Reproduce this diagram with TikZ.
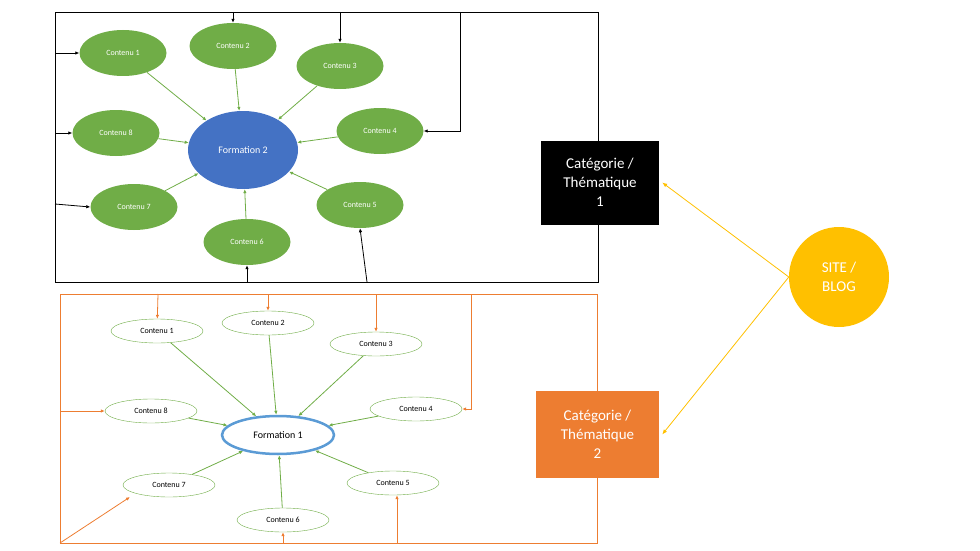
\documentclass[tikz,border=0pt]{standalone}
\usepackage{fontspec}
\setmainfont{Carlito}
\usetikzlibrary{shapes.geometric,arrows.meta}
\definecolor{gr}{HTML}{70AD47}
\definecolor{bl}{HTML}{4472C4}
\definecolor{lb}{HTML}{5B9BD5}
\definecolor{orr}{HTML}{ED7D31}
\definecolor{ye}{HTML}{FFC000}
\begin{document}
\begin{tikzpicture}[x=1pt,y=-1pt,
 gt/.style={ellipse,fill=gr,text=white,minimum width=87pt,minimum height=46pt,inner sep=0pt,font=\fontsize{8}{9}\selectfont},
 wt/.style={ellipse,draw=gr,fill=white,minimum width=92pt,minimum height=24pt,inner sep=0pt,font=\fontsize{8}{9}\selectfont},
 ga/.style={draw=gr,thick,-{Latex[length=4pt,width=3.5pt]}},
 ka/.style={draw=black,thick,-{Latex[length=4pt,width=3.5pt]}},
 oa/.style={draw=orr,thick,-{Latex[length=4pt,width=3.5pt]}},
 ya/.style={draw=ye,thick,-{Latex[length=5pt,width=4pt]}},
 cat/.style={minimum width=118pt,minimum height=84pt,align=center,font=\fontsize{15}{19}\selectfont,inner sep=0pt}]
\useasboundingbox (0,0) rectangle (980,551);
% top box
\draw[thick] (55,12) rectangle (598,282);
\node[gt] (a1) at (123,53) {Contenu 1};
\node[gt] (a2) at (233,46) {Contenu 2};
\node[gt] (a3) at (340,66) {Contenu 3};
\node[gt] (a4) at (380,131) {Contenu 4};
\node[gt] (a5) at (360,205) {Contenu 5};
\node[gt] (a6) at (247,242) {Contenu 6};
\node[gt] (a7) at (134,207) {Contenu 7};
\node[gt] (a8) at (116,133) {Contenu 8};
\node[ellipse,fill=bl,text=white,minimum width=110pt,minimum height=78pt,inner sep=0pt,font=\fontsize{10}{12}\selectfont] (f2) at (243,150) {Formation 2};
\foreach \i in {1,...,8} \draw[ga] (a\i) -- (f2);
\coordinate (t1) at (233,12); \coordinate (t2) at (340,12);
\coordinate (t3) at (460,12); \coordinate (t4) at (460,131);
\coordinate (l1) at (55,53); \coordinate (l2) at (55,133); \coordinate (l3) at (55,204);
\coordinate (b1) at (247,282); \coordinate (b2) at (367,282);
\draw[ka] (t1) -- (a2); \draw[ka] (t2) -- (a3);
\draw[ka] (t3) -- (t4) -- (a4);
\draw[ka] (l1) -- (a1); \draw[ka] (l2) -- (a8); \draw[ka] (l3) -- (a7.west);
\draw[ka] (b1) -- (a6); \draw[ka] (b2) -- (a5.south);
% bottom box
\draw[orr,thick] (60,294) rectangle (597,543);
\node[wt] (c1) at (157,331) {Contenu 1};
\node[wt] (c2) at (268,323) {Contenu 2};
\node[wt] (c3) at (376,344) {Contenu 3};
\node[wt] (c4) at (416,409) {Contenu 4};
\node[wt] (c5) at (393,483) {Contenu 5};
\node[wt] (c6) at (283,520) {Contenu 6};
\node[wt] (c7) at (169,485) {Contenu 7};
\node[wt] (c8) at (151,411) {Contenu 8};
\node[ellipse,draw=lb,line width=2.5pt,fill=white,minimum width=112pt,minimum height=38pt,inner sep=0pt,font=\fontsize{10}{12}\selectfont] (f1) at (278,435) {Formation 1};
\foreach \i in {1,...,8} \draw[ga] (c\i) -- (f1);
\coordinate (u1) at (158,294); \coordinate (u2) at (268,294);
\coordinate (u3) at (376,294); \coordinate (u4) at (471,294); \coordinate (u5) at (471,409);
\coordinate (m1) at (60,411); \coordinate (m2) at (60,543); \coordinate (m3) at (130,497);
\coordinate (d1) at (283,543); \coordinate (d2) at (397,543);
\draw[oa] (u1) -- (c1); \draw[oa] (u2) -- (c2); \draw[oa] (u3) -- (c3);
\draw[oa] (u4) -- (u5) -- (c4);
\draw[oa] (m1) -- (c8); \draw[oa] (m2) -- (m3);
\draw[oa] (d1) -- (c6); \draw[oa] (d2) -- (d2|-c5.south);
% right
\node[cat,fill=black,text=white] (k1) at (600,182.5) {Catégorie /\\Thématique\\1};
\node[cat,fill=orr,text=white,minimum width=123pt,minimum height=87pt] (k2) at (597.5,434.5) {Catégorie /\\Thématique\\2};
\node[circle,fill=ye,text=white,minimum size=100pt,align=center,font=\fontsize{15}{19}\selectfont] (s) at (839,277) {SITE /\\BLOG};
\draw[ya] (s.west) -- ([xshift=3pt]k1.east);
\draw[ya] (s.west) -- ([xshift=3pt]k2.east);
\end{tikzpicture}
\end{document}
